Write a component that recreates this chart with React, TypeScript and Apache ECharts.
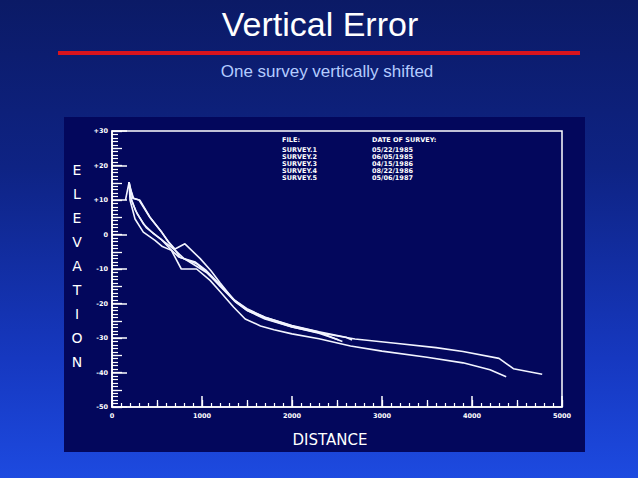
import React, { useEffect, useRef } from "react";
import * as echarts from "echarts";

// ---- Data (distance, elevation) ----
const survey1: [number, number][] = [
  [150, 10], [190, 15.2], [205, 11], [260, 7], [350, 3], [450, 0.5], [550, -1.5],
  [640, -4], [740, -6.5], [926, -8], [1050, -10.5], [1200, -14.5], [1350, -18.8],
  [1500, -21.8], [1700, -24], [2000, -26.5], [2300, -28.3], [2560, -31],
];
const survey2: [number, number][] = [
  [190, 15.2], [215, 10], [280, 6], [380, 2], [500, -0.5], [600, -2.5], [700, -4.5],
  [756, -6.6], [941, -8.5], [1080, -11.5], [1200, -15], [1350, -19], [1500, -22],
  [1700, -24.3], [2000, -26.8], [2300, -28.6], [2520, -30.6],
];
const survey3: [number, number][] = [
  [195, 14], [240, 10.5], [311, 9.9], [422, 5], [552, 0.7], [626, -2.2], [700, -4.5],
  [800, -7], [926, -9], [1050, -11], [1200, -14.8], [1370, -19.2], [1500, -21.5],
  [1700, -24], [2000, -26.4], [2300, -28.2], [2600, -29.8], [2667, -30.6],
];
const survey4: [number, number][] = [
  [190, 15.2], [230, 10.5], [300, 10], [420, 5], [550, 0.7], [630, -2.2], [700, -4.2],
  [810, -2.7], [980, -7], [1100, -10.5], [1200, -14], [1370, -19.5], [1500, -22],
  [1700, -24.5], [2000, -26.8], [2300, -28.5], [2700, -30.3], [3150, -31.5],
  [3600, -32.8], [3900, -33.9], [4300, -35.9], [4460, -38.9], [4780, -40.5],
];
const survey5: [number, number][] = [
  [190, 15.2], [200, 10], [256, 4.5], [348, 0.7], [478, -1.7], [560, -3.5], [660, -4.6],
  [770, -10], [940, -10], [1090, -13.3], [1200, -16.5], [1350, -21], [1480, -24.5],
  [1650, -26.5], [1800, -27.6], [2000, -28.8], [2300, -30.2], [2650, -32.3],
  [3000, -33.8], [3500, -35.6], [3900, -37.2], [4200, -39.2], [4380, -41.2],
];
const surveys = [survey1, survey2, survey3, survey4, survey5];
const surveyFiles = ["SURVEY.1", "SURVEY.2", "SURVEY.3", "SURVEY.4", "SURVEY.5"];
const surveyDates = ["05/22/1985", "06/05/1985", "04/15/1986", "08/22/1986", "05/06/1987"];

const titleText = "Vertical Error";
const subtitleText = "One survey vertically shifted";
const xName = "DISTANCE";
const yName = "ELEVATION";

export default function App() {
  const ref = useRef<HTMLDivElement>(null);
  useEffect(() => {
    const chart = echarts.init(ref.current as HTMLDivElement, null, { renderer: "svg" });
    const tiny = { color: "#ffffff", fontSize: 6.5, fontWeight: "bold" as const, fontFamily: "DejaVu Sans" };
    const white = "#ffffff";
    const legendStyle = { fill: white, fontSize: 6.5, fontWeight: "bold", fontFamily: "DejaVu Sans", verticalAlign: "middle" };
    const legendTexts: any[] = [];
    legendTexts.push({ type: "text", x: 282, y: 140, style: { text: "FILE:", ...legendStyle } });
    legendTexts.push({ type: "text", x: 372, y: 140, style: { text: "DATE OF SURVEY:", ...legendStyle } });
    surveyFiles.forEach((f, i) => {
      legendTexts.push({ type: "text", x: 282, y: 149.5 + i * 7, style: { text: f, ...legendStyle } });
      legendTexts.push({ type: "text", x: 372, y: 149.5 + i * 7, style: { text: surveyDates[i], ...legendStyle } });
    });

    chart.setOption({
      animation: false,
      backgroundColor: "transparent",
      title: [
        { text: titleText, left: 320, top: 7, padding: 0, textAlign: "center",
          textStyle: { color: white, fontSize: 34, fontWeight: "normal", fontFamily: "Liberation Sans" } },
        { text: subtitleText, left: 327, top: 63, padding: 0, textAlign: "center",
          textStyle: { color: "#b4ccff", fontSize: 17, fontWeight: "normal", fontFamily: "Liberation Sans" } },
      ],
      grid: { left: 112, right: 76, top: 131, bottom: 71, show: true, borderColor: white, borderWidth: 1.5, backgroundColor: "transparent" },
      graphic: [
        { type: "rect", z: -10, shape: { x: 64, y: 117, width: 521, height: 335 }, style: { fill: "#03075c" } },
        { type: "line", shape: { x1: 58, y1: 53, x2: 580, y2: 53 }, style: { stroke: "#d8141e", lineWidth: 4 } },
        { type: "text", x: 77, y: 266, style: { text: yName.split("").join("\n"), fill: white, fontSize: 14, fontFamily: "DejaVu Sans", align: "center", verticalAlign: "middle", lineHeight: 24 } },
        { type: "text", x: 330, y: 440, style: { text: xName, fill: white, fontSize: 15, fontFamily: "DejaVu Sans", align: "center", verticalAlign: "middle" } },
        ...legendTexts,
      ],
      xAxis: [
        {
          type: "value", min: 0, max: 5000, interval: 1000, position: "bottom",
          axisLine: { onZero: false, lineStyle: { color: white, width: 1.5 } },
          axisTick: { inside: true, length: 11, lineStyle: { color: white, width: 1.5 } },
          minorTick: { show: true, splitNumber: 10, length: 4, lineStyle: { color: white, width: 1.2 } },
          axisLabel: { ...tiny, margin: 5, formatter: (v: number) => String(v) },
          splitLine: { show: false },
        },
        {
          type: "value", min: 0, max: 5000, interval: 500, position: "bottom",
          axisLine: { show: false, onZero: false },
          axisTick: { inside: true, length: 7, lineStyle: { color: white, width: 1.3 } },
          axisLabel: { show: false }, splitLine: { show: false },
        },
      ],
      yAxis: [
        {
          type: "value", min: -50, max: 30, interval: 10, position: "left",
          axisLine: { onZero: false, lineStyle: { color: white, width: 1.5 } },
          axisTick: { inside: true, length: 15, lineStyle: { color: white, width: 1.5 } },
          minorTick: { show: true, splitNumber: 10, length: 6, lineStyle: { color: white, width: 1.2 } },
          axisLabel: { ...tiny, margin: 4, formatter: (v: number) => (v > 0 ? "+" + v : String(v)) },
          splitLine: { show: false },
        },
        {
          type: "value", min: -50, max: 30, interval: 5, position: "left",
          axisLine: { show: false, onZero: false },
          axisTick: { inside: true, length: 10, lineStyle: { color: white, width: 1.3 } },
          axisLabel: { show: false }, splitLine: { show: false },
        },
      ],
      series: surveys.map((d, i) => ({
        name: surveyFiles[i], type: "line", data: d, showSymbol: false, symbol: "none",
        xAxisIndex: 0, yAxisIndex: 0,
        lineStyle: { color: "#f2f4ff", width: 1.6 },
      })),
    });
    return () => chart.dispose();
  }, []);
  return (
    <div
      ref={ref}
      style={{
        position: "fixed", left: 0, top: 0, width: 638, height: 478,
        background: "linear-gradient(180deg, #0b1a66 0%, #0e2384 35%, #1638c0 75%, #1d4ae0 100%)",
      }}
    />
  );
}
